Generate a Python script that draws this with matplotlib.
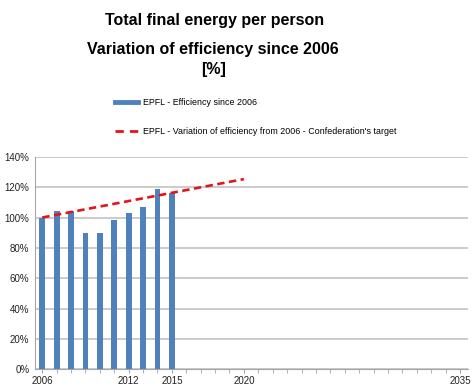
import numpy as np
import matplotlib.pyplot as plt
from matplotlib.lines import Line2D
from matplotlib.ticker import FixedLocator, MultipleLocator, PercentFormatter

plt.rcParams['font.family'] = ['Liberation Sans', 'DejaVu Sans']

years = [2006, 2007, 2008, 2009, 2010, 2011, 2012, 2013, 2014, 2015]
efficiency = [100, 104.5, 104, 89.5, 89.5, 98.3, 102.8, 106.8, 118.6, 116]
target_years = [2006, 2020]
target = [100, 125.3]
tick_years = [2006, 2012, 2015, 2020, 2035]

fig = plt.figure(figsize=(4.74, 3.9), dpi=100)
ax = fig.add_axes([0.074, 0.053, 0.913, 0.545])

ax.bar(years, efficiency, width=0.4, color='#4f81bd', zorder=3)
ax.plot(target_years, target, color='#e3141b', lw=1.9, dashes=(2.8, 1.7), zorder=4)

ax.set_xlim(2005.5, 2035.55)
ax.set_ylim(0, 140)
ax.yaxis.set_major_locator(MultipleLocator(20))
ax.yaxis.set_major_formatter(PercentFormatter(decimals=0))
ax.xaxis.set_major_locator(FixedLocator(tick_years))
ax.xaxis.set_minor_locator(MultipleLocator(1))
ax.set_xticklabels([str(y) for y in tick_years])

ax.grid(axis='y', color='#bdbdbd', lw=1.1, zorder=0)
for s in ['top', 'right']:
    ax.spines[s].set_visible(False)
for s in ['left', 'bottom']:
    ax.spines[s].set_color('#a6a6a6')
ax.tick_params(axis='y', length=0, labelsize=7, colors='#222222', pad=4)
ax.tick_params(axis='x', which='both', direction='out', length=3, color='#a6a6a6',
               labelsize=7, labelcolor='#222222', pad=2)

fig.text(0.452, 0.947, 'Total final energy per person', ha='center', va='center',
         fontsize=11.5, fontweight='bold')
fig.text(0.45, 0.874, 'Variation of efficiency since 2006', ha='center', va='center',
         fontsize=11.5, fontweight='bold')
fig.text(0.45, 0.822, '[%]', ha='center', va='center', fontsize=11.5, fontweight='bold')

handles = [Line2D([], [], color='#4f81bd', lw=3.5),
           Line2D([], [], color='#e3141b', lw=2, dashes=(3, 2.2))]
labels = ['EPFL - Efficiency since 2006',
          "EPFL - Variation of efficiency from 2006 - Confederation's target"]
fig.legend(handles, labels, loc='upper left', bbox_to_anchor=(0.235, 0.757),
           frameon=False, fontsize=6.4, handlelength=2.6, labelspacing=2.2,
           handletextpad=0.55, borderaxespad=0)

plt.savefig('out.png', dpi=100)
